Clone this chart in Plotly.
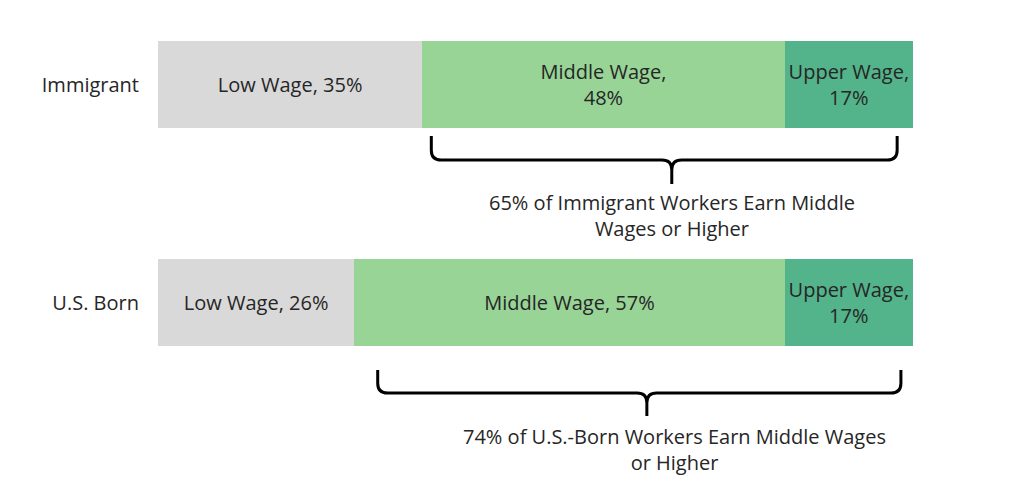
import plotly.graph_objects as go

# Распределение работников по уровню заработной платы (%)
groups = ["Immigrant", "U.S. Born"]
low_wage = [35, 26]
middle_wage = [48, 57]
upper_wage = [17, 17]

low_text = ["Low Wage, 35%", "Low Wage, 26%"]
middle_text = ["Middle Wage,<br>48%", "Middle Wage, 57%"]
upper_text = ["Upper Wage,<br>17%", "Upper Wage,<br>17%"]

brace_notes = [
    "65% of Immigrant Workers Earn Middle<br>Wages or Higher",
    "74% of U.S.-Born Workers Earn Middle Wages<br>or Higher",
]
# начало и конец фигурной скобки по оси x
brace_start = [36.2, 29.1]
brace_end = [97.9, 98.4]
note_shift = [0, 3.7]

FONT = "Open Sans"
SIZE = 20
TEXT_COLOR = "#262626"
y_pos = list(range(len(groups)))

fig = go.Figure()
for vals, txt, color, name in [
    (low_wage, low_text, "#d9d9d9", "Low Wage"),
    (middle_wage, middle_text, "#97d496", "Middle Wage"),
    (upper_wage, upper_text, "#53b38a", "Upper Wage"),
]:
    fig.add_trace(go.Bar(
        y=y_pos, x=vals, orientation="h", name=name,
        marker=dict(color=color, line=dict(width=0)),
        width=0.4, text=txt, textposition="inside",
        insidetextanchor="middle", textangle=0,
        insidetextfont=dict(family=FONT, size=SIZE, color=TEXT_COLOR),
        hoverinfo="skip",
    ))

# фигурные скобки под полосами
offsets = [(0.236, 0.346, 0.456, 0.60), (0.310, 0.415, 0.521, 0.672)]
rx, ry = 1.3, 0.045
for i in y_pos:
    x0, x1 = brace_start[i], brace_end[i]
    xm = (x0 + x1) / 2 + 1.0
    yt, yh, ytip, ytext = [i + o for o in offsets[i]]
    path = (
        f"M {x0},{yt} L {x0},{yh - ry} Q {x0},{yh} {x0 + rx},{yh} "
        f"L {xm - rx},{yh} Q {xm},{yh} {xm},{yh + ry} L {xm},{ytip} "
        f"L {xm},{yh + ry} Q {xm},{yh} {xm + rx},{yh} "
        f"L {x1 - rx},{yh} Q {x1},{yh} {x1},{yh - ry} L {x1},{yt}"
    )
    fig.add_shape(type="path", path=path, xref="x", yref="y",
                  line=dict(color="black", width=3))
    fig.add_annotation(x=xm + note_shift[i], y=ytext, xref="x", yref="y",
                       text=brace_notes[i], showarrow=False, align="center",
                       font=dict(family=FONT, size=SIZE, color=TEXT_COLOR))

fig.update_layout(
    barmode="stack",
    width=1016, height=489,
    margin=dict(l=150, r=111, t=0, b=0),
    paper_bgcolor="white", plot_bgcolor="white",
    showlegend=False,
    uniformtext=dict(minsize=SIZE, mode="show"),
    font=dict(family=FONT, size=SIZE, color=TEXT_COLOR),
    xaxis=dict(range=[0, 100], visible=False, fixedrange=True),
    yaxis=dict(range=[1.892, -0.351], tickvals=y_pos, ticktext=groups,
               showgrid=False, zeroline=False, showline=False,
               ticks="", ticklabelstandoff=18, fixedrange=True,
               tickfont=dict(family=FONT, size=SIZE, color=TEXT_COLOR)),
)

fig.write_html("out.html")
